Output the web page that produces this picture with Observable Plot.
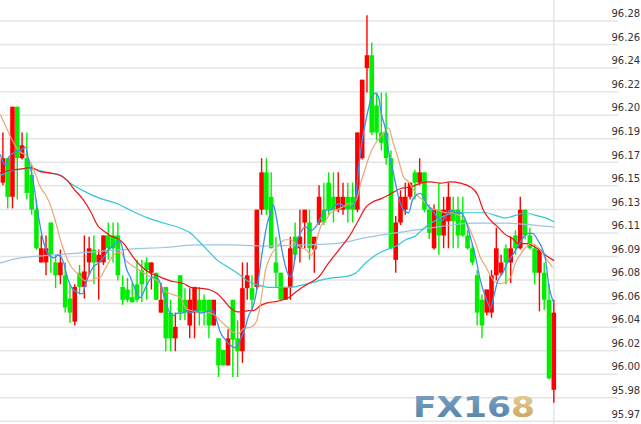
<!DOCTYPE html>
<html>
<head>
<meta charset="utf-8">
<script src="https://cdn.jsdelivr.net/npm/d3@7"></script>
<script src="https://cdn.jsdelivr.net/npm/@observablehq/plot@0.6"></script>
<style>
  html, body { margin: 0; padding: 0; background: #fff; }
  #chart { width: 641px; height: 424px; overflow: hidden; }
</style>
</head>
<body>
<div id="chart"></div>
<script>
// ---- data ----
const opens = [96.151,96.170,96.140,96.210,96.170,96.170,96.157,96.130,96.089,96.089,
96.120,96.089,96.079,96.079,96.061,96.043,96.081,96.070,96.089,96.099,
96.089,96.089,96.110,96.110,96.110,96.070,96.068,96.062,96.072,96.083,
96.089,96.081,96.081,96.050,96.070,96.050,96.030,96.079,96.060,96.040,
96.050,96.060,96.060,96.060,96.040,96.030,96.021,96.009,96.060,96.030,
96.020,96.069,96.069,96.070,96.130,96.159,96.140,96.089,96.081,96.060,
96.070,96.109,96.100,96.120,96.120,96.099,96.120,96.130,96.151,96.140,
96.130,96.130,96.140,96.140,96.130,96.170,96.240,96.250,96.211,96.190,
96.190,96.170,96.091,96.120,96.130,96.140,96.159,96.151,96.159,96.130,
96.100,96.130,96.110,96.121,96.130,96.130,96.122,96.110,96.100,96.079,
96.060,96.050,96.050,96.079,96.081,96.100,96.089,96.110,96.100,96.130,
96.110,96.100,96.081,96.081,96.060,95.990];
const highs = [96.190,96.170,96.210,96.210,96.190,96.190,96.165,96.138,96.110,96.110,
96.120,96.095,96.099,96.089,96.072,96.072,96.087,96.110,96.109,96.110,
96.099,96.110,96.120,96.120,96.120,96.079,96.077,96.073,96.091,96.091,
96.093,96.089,96.081,96.073,96.070,96.060,96.050,96.079,96.069,96.069,
96.070,96.070,96.064,96.060,96.060,96.030,96.021,96.037,96.060,96.044,
96.089,96.089,96.079,96.130,96.170,96.170,96.159,96.109,96.081,96.070,
96.109,96.120,96.130,96.130,96.130,96.109,96.149,96.151,96.159,96.159,
96.159,96.151,96.151,96.151,96.190,96.231,96.281,96.260,96.221,96.221,
96.221,96.176,96.125,96.145,96.151,96.151,96.161,96.170,96.159,96.134,
96.134,96.151,96.140,96.151,96.140,96.140,96.140,96.114,96.103,96.083,
96.064,96.068,96.083,96.116,96.095,96.103,96.109,96.114,96.140,96.130,
96.116,96.103,96.100,96.089,96.072,96.060];
const lows = [96.149,96.131,96.131,96.138,96.169,96.138,96.126,96.099,96.089,96.079,
96.081,96.069,96.072,96.050,96.042,96.040,96.064,96.061,96.079,96.072,
96.060,96.087,96.091,96.089,96.075,96.056,96.058,96.058,96.058,96.058,
96.060,96.068,96.060,96.050,96.020,96.020,96.020,96.044,96.044,96.030,
96.030,96.040,96.040,96.030,96.040,96.000,96.009,96.009,96.000,96.000,
96.011,96.060,96.052,96.068,96.126,96.126,96.100,96.070,96.060,96.060,
96.060,96.091,96.089,96.100,96.091,96.081,96.118,96.118,96.126,96.120,
96.128,96.126,96.120,96.120,96.128,96.169,96.221,96.188,96.184,96.176,
96.165,96.099,96.081,96.118,96.126,96.138,96.138,96.149,96.128,96.107,
96.099,96.095,96.100,96.100,96.100,96.100,96.109,96.099,96.087,96.040,
96.030,96.048,96.046,96.075,96.079,96.072,96.073,96.095,96.099,96.107,
96.099,96.072,96.051,96.052,95.998,95.980];
const closes = [96.170,96.140,96.210,96.170,96.180,96.143,96.130,96.100,96.100,96.100,
96.095,96.079,96.089,96.054,96.050,96.070,96.070,96.082,96.100,96.089,
96.095,96.110,96.100,96.100,96.079,96.060,96.060,96.058,96.060,96.072,
96.083,96.089,96.060,96.060,96.030,96.030,96.039,96.050,96.050,96.060,
96.070,96.050,96.050,96.040,96.060,96.009,96.009,96.030,96.029,96.020,
96.069,96.079,96.060,96.130,96.159,96.130,96.100,96.081,96.060,96.070,
96.100,96.095,96.109,96.130,96.100,96.109,96.140,96.120,96.130,96.130,
96.140,96.140,96.130,96.130,96.190,96.231,96.250,96.190,96.190,96.182,
96.170,96.100,96.120,96.140,96.140,96.151,96.151,96.159,96.130,96.112,
96.130,96.110,96.130,96.140,96.121,96.110,96.110,96.100,96.089,96.050,
96.040,96.068,96.079,96.100,96.089,96.089,96.100,96.100,96.130,96.110,
96.100,96.081,96.099,96.060,95.999,96.050];

// moving-average lines: [bar position, value]
const maFast = [[-0.5,96.173],[0.5,96.165],[1.2,96.171],[2.0,96.174],[3.0,96.176],[3.9,96.177],[4.7,96.179],[5.3,96.170],[6.2,96.155],[6.8,96.141],[7.4,96.126],[8.3,96.108],[9.3,96.097],[10.6,96.093],[11.6,96.095],[12.7,96.089],[13.5,96.077],[14.5,96.069],[15.6,96.066],[16.6,96.065],[17.2,96.072],[17.9,96.079],[18.9,96.086],[20.0,96.089],[21.0,96.093],[22.0,96.099],[23.5,96.104],[24.1,96.107],[25.0,96.100],[25.6,96.087],[26.6,96.078],[27.7,96.068],[28.7,96.062],[29.8,96.070],[31.2,96.078],[31.9,96.078],[32.9,96.073],[33.5,96.065],[34.6,96.052],[35.4,96.048],[36.5,96.050],[37.5,96.050],[38.5,96.052],[39.2,96.050],[40.2,96.052],[41.3,96.050],[42.3,96.051],[43.8,96.052],[44.4,96.047],[45.4,96.035],[46.5,96.029],[47.5,96.025],[48.6,96.023],[49.2,96.027],[50.0,96.033],[50.6,96.039],[51.3,96.048],[52.1,96.054],[52.7,96.062],[53.4,96.078],[54.2,96.099],[55.2,96.120],[55.9,96.128],[56.5,96.134],[56.9,96.128],[58.0,96.104],[59.0,96.086],[60.0,96.078],[60.7,96.086],[61.3,96.104],[62.1,96.112],[63.2,96.117],[64.2,96.114],[65.3,96.117],[66.3,96.124],[67.4,96.130],[68.4,96.130],[69.4,96.134],[70.5,96.135],[71.5,96.132],[72.6,96.132],[73.6,96.138],[74.2,96.161],[74.9,96.182],[75.9,96.202],[77.0,96.218],[77.8,96.221],[78.4,96.218],[79.0,96.205],[79.9,96.192],[80.5,96.176],[81.5,96.159],[82.6,96.140],[83.6,96.130],[84.7,96.128],[85.5,96.138],[86.1,96.141],[87.2,96.143],[87.8,96.140],[88.6,96.134],[89.7,96.130],[90.7,96.124],[91.8,96.122],[92.4,96.126],[93.4,96.130],[94.5,96.128],[95.5,96.128],[96.6,96.122],[97.6,96.109],[98.7,96.093],[99.7,96.075],[100.8,96.062],[101.8,96.054],[102.4,96.062],[103.3,96.075],[104.3,96.081],[105.3,96.089],[106.4,96.095],[107.4,96.101],[108.5,96.108],[109.5,96.112],[110.6,96.112],[111.6,96.107],[112.7,96.099],[113.3,96.091],[113.9,96.073],[115.0,96.058]];
const maMid = [[-0.5,96.204],[0.5,96.196],[1.6,96.187],[2.6,96.180],[3.7,96.175],[4.7,96.173],[5.8,96.167],[6.8,96.158],[7.8,96.148],[8.9,96.142],[9.9,96.134],[11.0,96.121],[12.0,96.107],[13.1,96.095],[14.1,96.087],[15.2,96.082],[16.2,96.078],[17.2,96.075],[18.3,96.075],[19.3,96.077],[20.4,96.078],[21.0,96.082],[22.0,96.089],[23.1,96.095],[23.9,96.097],[24.6,96.097],[25.6,96.091],[26.6,96.088],[28.7,96.083],[30.8,96.078],[32.9,96.073],[33.5,96.068],[35.0,96.065],[37.1,96.062],[38.1,96.054],[39.2,96.052],[40.6,96.051],[41.9,96.051],[43.3,96.050],[44.4,96.048],[45.4,96.044],[46.9,96.039],[48.1,96.035],[49.2,96.034],[50.2,96.038],[51.7,96.039],[52.7,96.042],[53.4,96.050],[54.2,96.068],[54.8,96.083],[55.5,96.091],[56.1,96.096],[57.5,96.103],[59.0,96.107],[60.0,96.107],[61.1,96.104],[62.3,96.101],[63.4,96.099],[64.4,96.095],[65.3,96.104],[66.3,96.117],[67.4,96.122],[68.4,96.128],[69.4,96.130],[70.7,96.132],[72.2,96.135],[73.2,96.135],[73.8,96.138],[74.7,96.151],[75.7,96.163],[76.7,96.174],[77.8,96.182],[78.8,96.187],[79.9,96.192],[80.5,96.194],[81.5,96.182],[82.6,96.169],[83.6,96.156],[84.7,96.152],[85.5,96.147],[86.6,96.141],[87.6,96.138],[88.6,96.134],[89.7,96.131],[90.9,96.130],[92.4,96.128],[93.9,96.128],[95.1,96.126],[96.6,96.122],[97.6,96.114],[98.7,96.104],[99.7,96.093],[100.8,96.086],[101.8,96.079],[102.8,96.074],[103.9,96.073],[104.9,96.074],[106.0,96.078],[107.0,96.089],[108.1,96.096],[109.1,96.101],[110.1,96.104],[111.2,96.103],[112.2,96.099],[113.3,96.093],[114.7,96.086]];
const maSlow = [[-0.5,96.159],[1.6,96.161],[3.7,96.162],[5.8,96.163],[7.8,96.160],[9.9,96.159],[12.0,96.157],[13.5,96.153],[14.7,96.147],[16.8,96.138],[18.3,96.129],[19.8,96.118],[21.0,96.114],[22.5,96.110],[23.9,96.108],[25.0,96.105],[26.0,96.100],[27.3,96.093],[28.7,96.087],[30.8,96.081],[32.3,96.079],[33.5,96.077],[35.0,96.075],[36.5,96.074],[37.7,96.073],[39.2,96.070],[41.9,96.069],[43.3,96.068],[44.8,96.065],[46.1,96.060],[47.5,96.054],[49.0,96.051],[50.0,96.051],[51.3,96.052],[52.3,96.052],[53.8,96.056],[55.2,96.058],[56.9,96.059],[58.2,96.060],[59.6,96.062],[61.7,96.068],[63.8,96.073],[65.9,96.078],[68.0,96.089],[70.1,96.099],[72.2,96.109],[74.2,96.122],[75.7,96.132],[77.0,96.136],[79.0,96.139],[81.1,96.143],[83.2,96.147],[85.1,96.148],[87.2,96.151],[89.3,96.152],[91.4,96.151],[93.4,96.152],[95.5,96.151],[97.6,96.148],[99.1,96.142],[100.3,96.130],[101.8,96.122],[103.3,96.117],[104.9,96.111],[106.4,96.108],[107.6,96.104],[109.5,96.104],[111.2,96.101],[112.2,96.099],[113.3,96.095],[115.0,96.091]];
const maLong = [[-0.5,96.157],[3.7,96.162],[6.4,96.162],[9.3,96.159],[12.0,96.157],[14.1,96.151],[16.8,96.145],[20.4,96.139],[23.9,96.135],[26.6,96.130],[30.2,96.124],[33.5,96.120],[37.1,96.116],[39.2,96.112],[40.6,96.107],[42.7,96.099],[44.8,96.091],[46.9,96.086],[49.0,96.081],[51.1,96.075],[53.2,96.072],[55.9,96.070],[59.6,96.070],[63.8,96.073],[68.0,96.077],[72.2,96.079],[73.6,96.081],[75.7,96.089],[77.8,96.095],[79.9,96.099],[82.0,96.102],[84.1,96.107],[86.1,96.110],[88.2,96.117],[90.3,96.122],[92.4,96.126],[94.5,96.128],[97.6,96.128],[100.8,96.128],[102.8,96.126],[104.9,96.124],[107.0,96.126],[109.1,96.128],[111.2,96.126],[113.3,96.124],[115.0,96.121]];
const maLongest = [[-0.5,96.089],[3.7,96.093],[9.9,96.095],[13.5,96.096],[20.4,96.098],[27.3,96.100],[33.5,96.101],[40.6,96.103],[47.5,96.103],[55.9,96.102],[62.3,96.103],[69.4,96.104],[76.3,96.109],[83.2,96.113],[90.9,96.117],[98.0,96.120],[104.9,96.120],[111.8,96.118],[115.0,96.117]];

// price axis
const yTickValues = [96.277,96.2587,96.2404,96.2221,96.2038,96.1855,96.1672,96.1489,96.1306,96.1123,96.0940,96.0757,96.0574,96.0391,96.0208,96.0025,95.9842,95.9659];
const yTickLabels = ["96.28","96.26","96.24","96.22","96.20","96.19","96.17","96.15","96.13","96.11","96.09","96.08","96.06","96.04","96.02","96.00","95.98","95.97"];

// ---- chart ----
const N = opens.length;
const bars = opens.map((o, i) => ({i, o, h: highs[i], l: lows[i], c: closes[i]}));
const labelOf = new Map(yTickValues.map((v, i) => [v, yTickLabels[i]]));
const candleColor = d => d.c > d.o ? "#ff0000" : "#00ee00";
const line = (data, stroke, w) => Plot.line(data, {x: d => d[0], y: d => d[1], stroke, strokeWidth: w, curve: "monotone-x"});

const chart = Plot.plot({
  width: 641,
  height: 424,
  marginLeft: 0, marginRight: 23, marginTop: 0, marginBottom: 0,
  style: {background: "#fff", fontFamily: "'DejaVu Sans', sans-serif"},
  x: {domain: [0, N - 1], range: [2.4, 553.3], axis: null},
  y: {domain: [yTickValues[yTickValues.length - 1], yTickValues[0]], range: [420.85, 20.5], axis: null},
  marks: [
    Plot.gridY(yTickValues, {stroke: "#e4e4e4", strokeOpacity: 1, strokeWidth: 1.5}),
    Plot.ruleX([N - 1], {stroke: "#e4e4e4", strokeWidth: 1.5}),
    Plot.axisY(yTickValues, {anchor: "right", tickSize: 0, tickPadding: 0, dx: -7, dy: -7,
      tickFormat: d => labelOf.get(d), fontSize: 10, fill: "#333", fontFamily: "'DejaVu Sans', sans-serif"}),
    Plot.ruleX(bars, {x: "i", y1: "l", y2: "h", stroke: candleColor, strokeWidth: 1.4}),
    Plot.ruleX(bars, {x: "i", y1: "o", y2: "c", stroke: candleColor, strokeWidth: 4.6}),
    line(maLongest, "#9ec4df", 1.2),
    line(maLong, "#2fc9d2", 1.2),
    line(maSlow, "#ee1515", 1.2),
    line(maMid, "#e9a777", 1.2),
    line(maFast, "#3b8ff0", 1.3)
  ]
});
document.getElementById("chart").appendChild(chart);

// watermark
const svg = d3.select(chart);
const defs = svg.append("defs");
const g1 = defs.append("linearGradient").attr("id", "wmBlue").attr("x1", 0).attr("y1", 0).attr("x2", 0).attr("y2", 1);
g1.append("stop").attr("offset", "0%").attr("stop-color", "#7ea3c2");
g1.append("stop").attr("offset", "100%").attr("stop-color", "#4f7fa6");
const g2 = defs.append("linearGradient").attr("id", "wmGold").attr("x1", 0).attr("y1", 0).attr("x2", 0).attr("y2", 1);
g2.append("stop").attr("offset", "0%").attr("stop-color", "#e8d3a0");
g2.append("stop").attr("offset", "100%").attr("stop-color", "#c59d55");
const wm = svg.append("text")
  .attr("x", 413).attr("y", 417)
  .attr("text-anchor", "start")
  .attr("font-family", "'DejaVu Sans', sans-serif")
  .attr("font-weight", "bold")
  .attr("font-size", 28)
  .attr("textLength", 122)
  .attr("lengthAdjust", "spacingAndGlyphs");
wm.append("tspan").attr("fill", "url(#wmBlue)").text("FX16");
wm.append("tspan").attr("fill", "url(#wmGold)").text("8");
</script>
</body>
</html>
